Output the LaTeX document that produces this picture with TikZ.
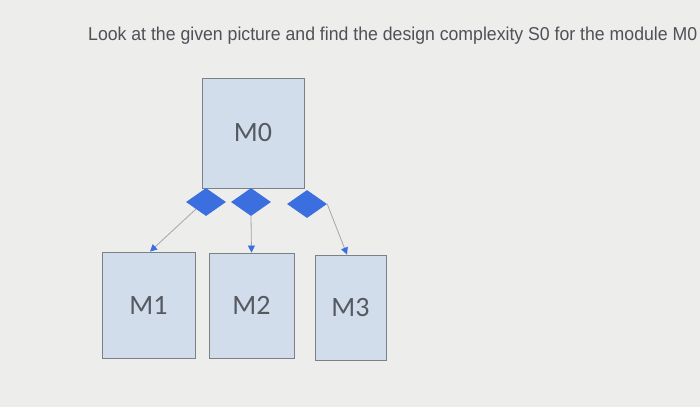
\documentclass[tikz,border=0pt]{standalone}
\usepackage{fontspec}
\setmainfont{Liberation Sans}
\newfontfamily\calib{Carlito}
\usetikzlibrary{shapes.geometric,arrows.meta}
\definecolor{bg}{HTML}{EDEDEB}
\definecolor{boxfill}{HTML}{D2DDEB}
\definecolor{boxline}{HTML}{7C8187}
\definecolor{dblue}{HTML}{3B6FE0}
\definecolor{lgray}{HTML}{A2A6AA}
\definecolor{txtgray}{HTML}{555A61}
\definecolor{titlec}{HTML}{505058}
\tikzset{
  modbox/.style={draw=boxline, fill=boxfill, line width=0.9pt, inner sep=0pt,
    font=\calib\fontsize{28}{32}\selectfont, text=txtgray},
  dmd/.style={diamond, fill=dblue, draw=none, inner sep=0pt,
    minimum width=40pt, minimum height=28pt},
  conn/.style={draw=lgray, line width=0.8pt,
    -{Triangle[length=7pt,width=7pt,fill=dblue,color=dblue]}}
}
\begin{document}
\begin{tikzpicture}[x=1pt,y=-1pt]
\fill[bg] (0,0) rectangle (700,407);
\useasboundingbox (0,0) rectangle (700,407);
\node[anchor=base west, inner sep=0pt, text=titlec] (title) at (88,40)
  {\resizebox{609pt}{13.5pt}{\fontsize{17}{20}\selectfont Look at the given picture and find the design complexity S0 for the module M0}};
\node[modbox, minimum width=102pt, minimum height=110pt] (m0) at (253,133) {M0};
\node[modbox, minimum width=93pt, minimum height=106pt] (m1) at (148.5,305) {M1};
\node[modbox, minimum width=85pt, minimum height=105pt] (m2) at (251.5,305.5) {M2};
\node[modbox, minimum width=71pt, minimum height=105pt] (m3) at (350.5,307.5) {M3};
\node[dmd] (d1) at (206,202) {};
\node[dmd] (d2) at (251,202) {};
\node[dmd] (d3) at (307,204) {};
\draw[conn] (d1.south west) -- (m1.north -| 150,0);
\draw[conn] (d2.south) -- (m2.north);
\draw[conn] (d3.east) -- (m3.north -| 347,0);
\end{tikzpicture}
\end{document}
